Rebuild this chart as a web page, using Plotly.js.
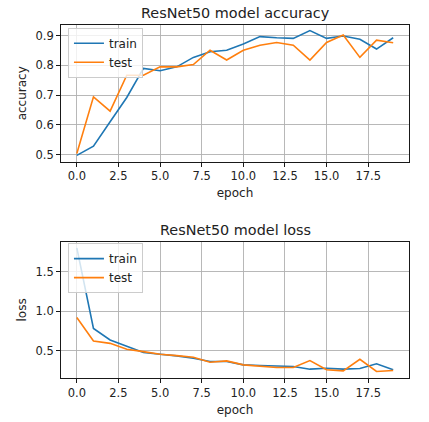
<!DOCTYPE html>
<html>
<head>
<meta charset="utf-8">
<script src="https://cdn.plot.ly/plotly-3.0.1.min.js"></script>
<style>
  body { margin: 0; background: #fff; }
  #myDiv { width: 429px; height: 422px; }
</style>
</head>
<body>
<div id="myDiv"></div>
<script>
// values
var epochs = [0,1,2,3,4,5,6,7,8,9,10,11,12,13,14,15,16,17,18,19];
var accTrain = [0.497,0.528,0.610,0.692,0.790,0.782,0.795,0.827,0.846,0.851,0.872,0.897,0.893,0.891,0.917,0.891,0.899,0.888,0.855,0.893];
var accTest  = [0.503,0.694,0.646,0.767,0.767,0.795,0.795,0.803,0.851,0.818,0.851,0.868,0.877,0.868,0.818,0.877,0.902,0.827,0.885,0.876];
var lossTrain = [1.796,0.783,0.638,0.554,0.480,0.458,0.438,0.408,0.367,0.367,0.325,0.317,0.313,0.304,0.271,0.283,0.271,0.279,0.338,0.263];
var lossTest  = [0.921,0.625,0.596,0.521,0.492,0.458,0.442,0.421,0.358,0.375,0.325,0.304,0.292,0.292,0.379,0.263,0.250,0.396,0.242,0.254];
var xTicks = [0,2.5,5,7.5,10,12.5,15,17.5];
var xTickText = ['0.0','2.5','5.0','7.5','10.0','12.5','15.0','17.5'];

var blue = '#1f77b4';
var orange = '#ff7f0e';
var font = 'DejaVu Sans, sans-serif';
var ink = '#222';

function line(x, y, name, color, xa, ya, lg) {
  return {
    x: x, y: y, name: name, type: 'scatter', mode: 'lines',
    line: {color: color, width: 1.6},
    xaxis: xa, yaxis: ya, legend: lg
  };
}

var data = [
  line(epochs, accTrain, 'train', blue, 'x', 'y', 'legend'),
  line(epochs, accTest, 'test', orange, 'x', 'y', 'legend'),
  line(epochs, lossTrain, 'train', blue, 'x2', 'y2', 'legend2'),
  line(epochs, lossTest, 'test', orange, 'x2', 'y2', 'legend2')
];

function xAxis(anchor) {
  return {
    anchor: anchor, range: [-0.95, 19.95],
    tickvals: xTicks, ticktext: xTickText,
    ticks: 'outside', ticklen: 4, tickcolor: '#000', tickwidth: 0.9,
    showline: true, mirror: true, linecolor: '#000', linewidth: 0.9,
    showgrid: true, gridcolor: '#b0b0b0', gridwidth: 0.9, zeroline: false,
    tickfont: {family: font, size: 11.5, color: ink},
    title: {text: 'epoch', font: {family: font, size: 12, color: ink}, standoff: 6}
  };
}

function yAxis(anchor, domain, range, vals, text, title) {
  return {
    anchor: anchor, domain: domain, range: range,
    tickvals: vals, ticktext: text,
    ticks: 'outside', ticklen: 4, tickcolor: '#000', tickwidth: 0.9,
    showline: true, mirror: true, linecolor: '#000', linewidth: 0.9,
    showgrid: true, gridcolor: '#b0b0b0', gridwidth: 0.9, zeroline: false,
    tickfont: {family: font, size: 11.5, color: ink},
    title: {text: title, font: {family: font, size: 12, color: ink}, standoff: 6}
  };
}

function legendBox(y) {
  return {
    x: 0.02, y: y, xanchor: 'left', yanchor: 'top',
    bgcolor: 'rgba(255,255,255,0.8)', bordercolor: '#cccccc', borderwidth: 1,
    font: {family: font, size: 12, color: ink},
    tracegroupgap: 0, itemwidth: 30
  };
}

var layout = {
  width: 429, height: 422,
  margin: {l: 61, r: 20, t: 25, b: 44},
  paper_bgcolor: '#fff', plot_bgcolor: '#fff',
  showlegend: true,
  xaxis: xAxis('y'),
  yaxis: yAxis('x', [0.613, 1], [0.476, 0.936], [0.5,0.6,0.7,0.8,0.9], ['0.5','0.6','0.7','0.8','0.9'], 'accuracy'),
  xaxis2: xAxis('y2'),
  yaxis2: yAxis('x2', [0, 0.386], [0.160, 1.874], [0.5,1.0,1.5], ['0.5','1.0','1.5'], 'loss'),
  legend: legendBox(0.992),
  legend2: legendBox(0.382),
  annotations: [
    {text: 'ResNet50 model accuracy', xref: 'paper', yref: 'paper', x: 0.5, y: 1, yanchor: 'bottom', yshift: 2,
     showarrow: false, font: {family: font, size: 14.4, color: ink}},
    {text: 'ResNet50 model loss', xref: 'paper', yref: 'paper', x: 0.5, y: 0.386, yanchor: 'bottom', yshift: 2,
     showarrow: false, font: {family: font, size: 14.4, color: ink}}
  ]
};

Plotly.newPlot('myDiv', data, layout, {displayModeBar: false, staticPlot: true});
</script>
</body>
</html>
